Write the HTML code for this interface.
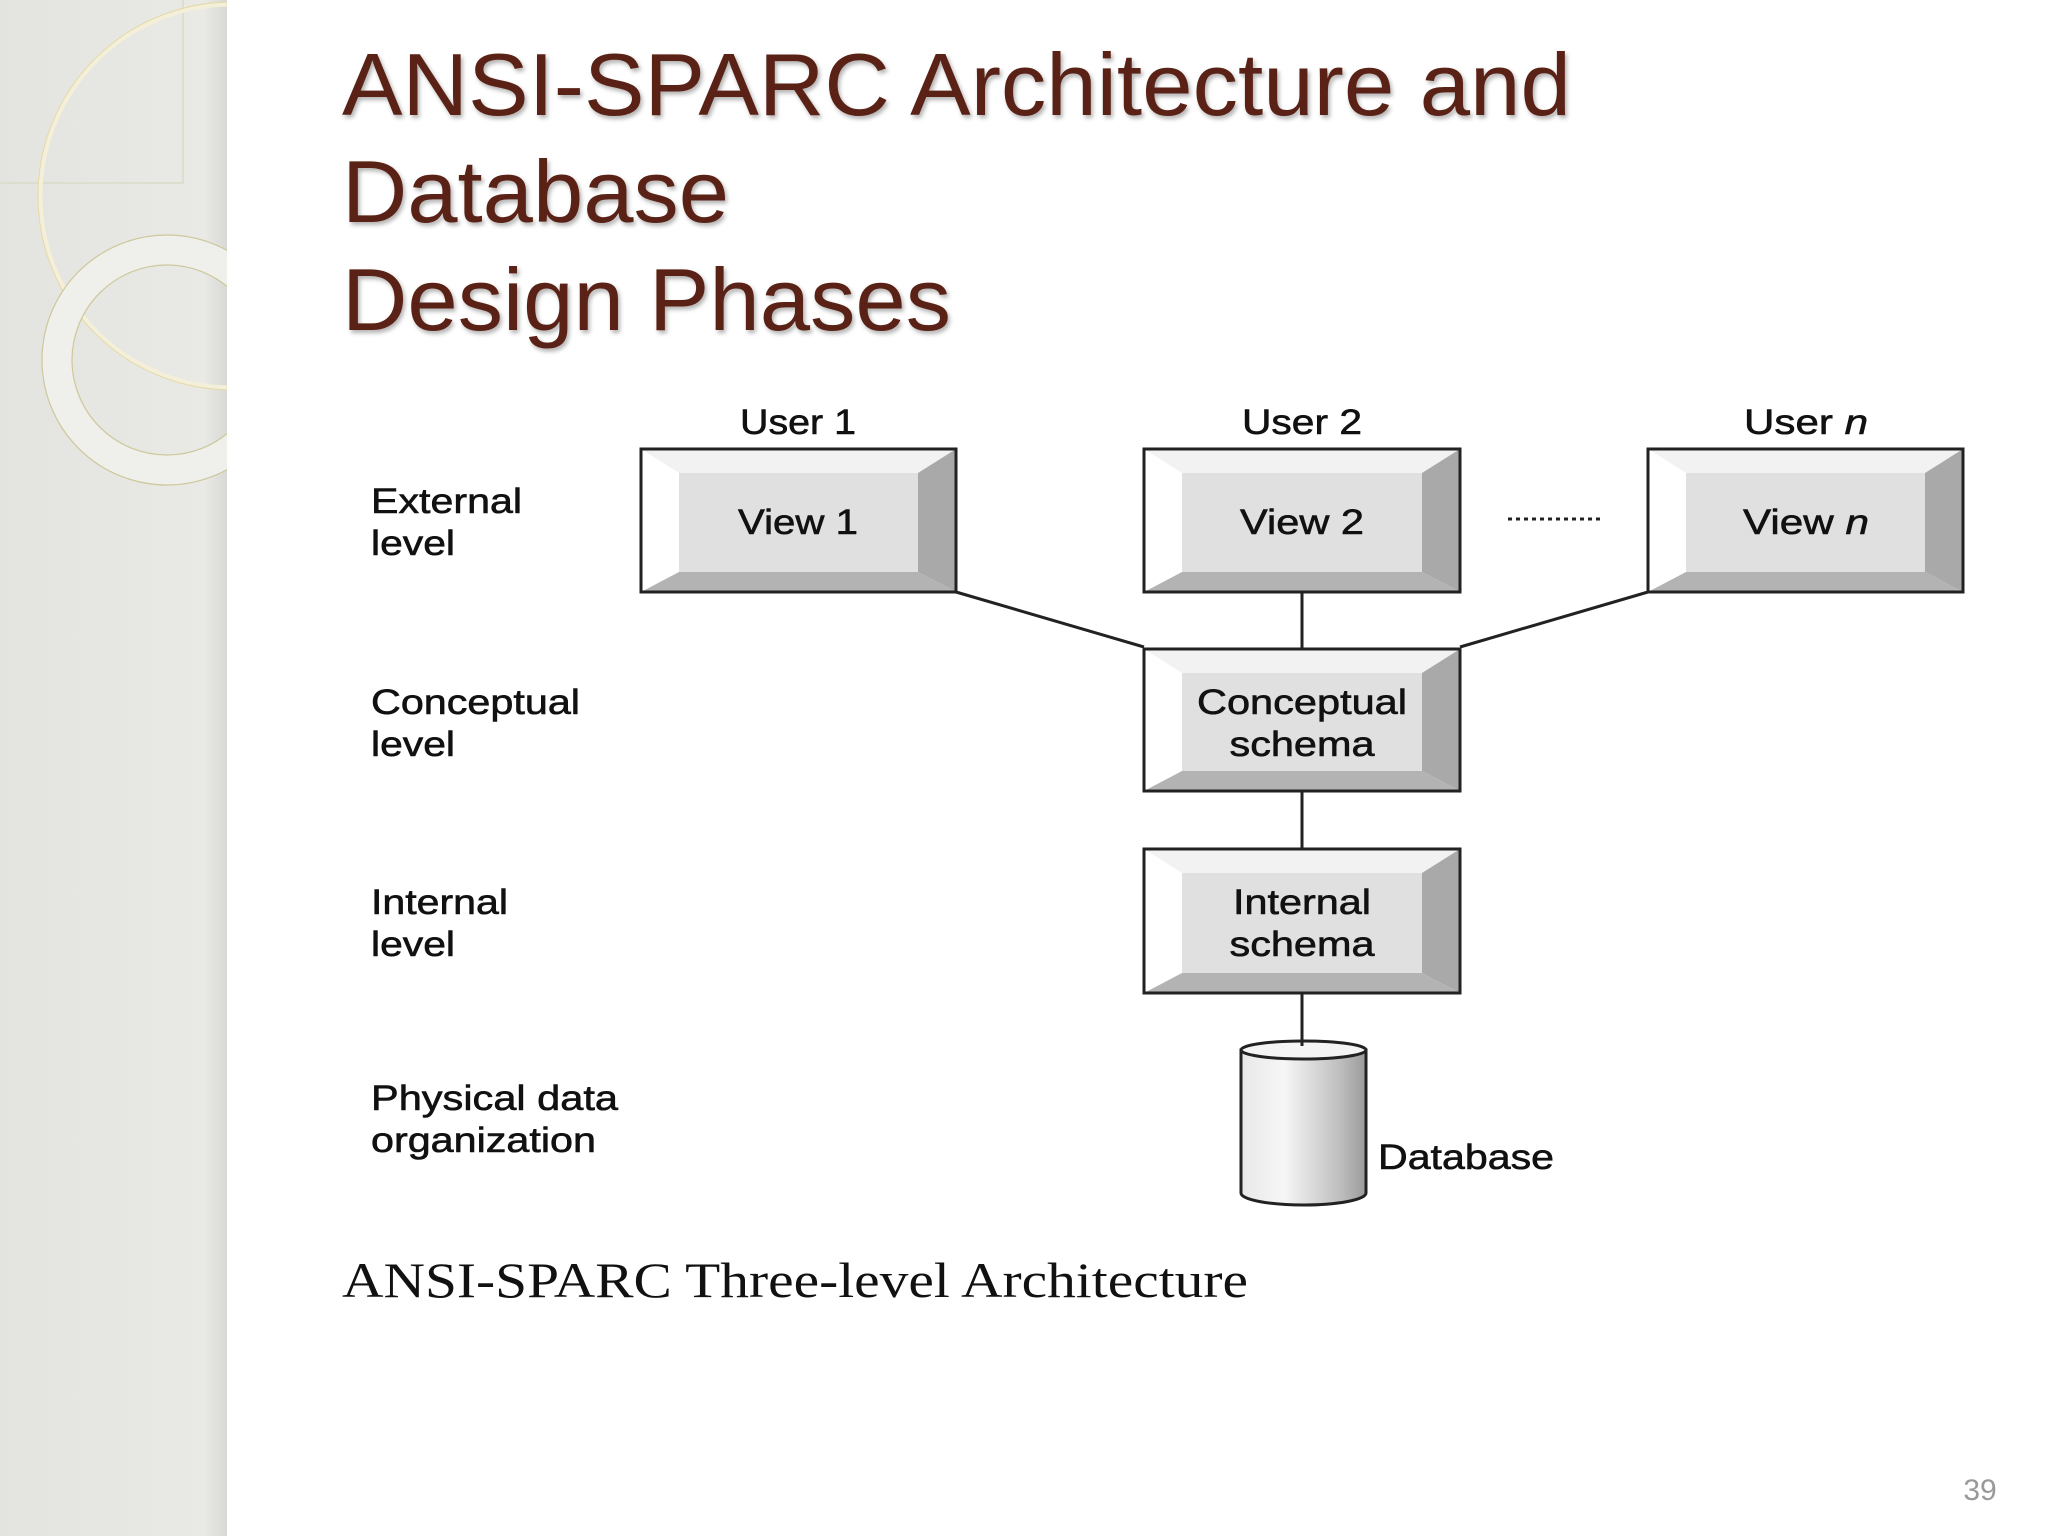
<!DOCTYPE html>
<html><head><meta charset="utf-8"><style>
html,body{margin:0;padding:0;background:#fff;}
svg{display:block;}
</style></head><body>
<svg width="2048" height="1536" viewBox="0 0 2048 1536" xmlns="http://www.w3.org/2000/svg">
<defs>
<linearGradient id="side" x1="0" x2="1"><stop offset="0" stop-color="#e3e3df"/><stop offset="0.9" stop-color="#e9e9e5"/><stop offset="1" stop-color="#d8d8d5"/></linearGradient>
<linearGradient id="cyl" x1="0" x2="1"><stop offset="0" stop-color="#e8e8e8"/><stop offset="0.35" stop-color="#f6f6f6"/><stop offset="0.8" stop-color="#bdbdbd"/><stop offset="1" stop-color="#9a9a9a"/></linearGradient>
<clipPath id="sc"><rect x="0" y="0" width="227" height="1536"/></clipPath>
<filter id="sh"><feDropShadow dx="2" dy="3" stdDeviation="2" flood-color="#000" flood-opacity="0.3"/></filter>
</defs>
<rect x="0" y="0" width="227" height="1536" fill="url(#side)"/>
<g clip-path="url(#sc)" fill="none">
<rect x="-1" y="-1" width="184" height="184" stroke="#d8dcc8" stroke-width="1.5"/>
<circle cx="232" cy="196" r="192" stroke="#f3efd8" stroke-width="5"/>
<circle cx="232" cy="196" r="194" stroke="#e2d9a8" stroke-width="1"/>
<circle cx="167" cy="360" r="110" stroke="#efefec" stroke-width="30"/>
<circle cx="167" cy="360" r="125" stroke="#cfc89a" stroke-width="1.2"/>
<circle cx="167" cy="360" r="95" stroke="#cfc89a" stroke-width="1.2"/>
</g>
<g font-family="Liberation Sans, Arial, sans-serif" fill="#5a2414" font-size="88" filter="url(#sh)">
<text x="342" y="115" textLength="1229" lengthAdjust="spacingAndGlyphs">ANSI-SPARC Architecture and</text>
<text x="342" y="222" textLength="387" lengthAdjust="spacingAndGlyphs">Database</text>
<text x="342" y="330" textLength="609" lengthAdjust="spacingAndGlyphs">Design Phases</text>
</g>
<g stroke="#222" stroke-width="3" fill="none">
<line x1="956" y1="592" x2="1144" y2="647"/>
<line x1="1302" y1="592" x2="1302" y2="649"/>
<line x1="1648" y1="592" x2="1460" y2="647"/>
<line x1="1302" y1="791" x2="1302" y2="849"/>
<line x1="1302" y1="993" x2="1302" y2="1045"/>
</g>
<g>
<g transform="translate(641,449)">
<rect x="0" y="0" width="315" height="143" fill="#fff"/>
<polygon points="0,0 315,0 277,24 38,24" fill="#f2f2f2"/>
<polygon points="0,0 38,24 38,123 0,143" fill="#fff"/>
<polygon points="315,0 315,143 277,123 277,24" fill="#a9a9a9"/>
<polygon points="0,143 38,123 277,123 315,143" fill="#b3b3b3"/>
<rect x="38" y="24" width="239" height="99" fill="#e0e0e0"/>
<rect x="0" y="0" width="315" height="143" fill="none" stroke="#222" stroke-width="3"/>
</g>
<g transform="translate(1144,449)">
<rect x="0" y="0" width="316" height="143" fill="#fff"/>
<polygon points="0,0 316,0 278,24 38,24" fill="#f2f2f2"/>
<polygon points="0,0 38,24 38,123 0,143" fill="#fff"/>
<polygon points="316,0 316,143 278,123 278,24" fill="#a9a9a9"/>
<polygon points="0,143 38,123 278,123 316,143" fill="#b3b3b3"/>
<rect x="38" y="24" width="240" height="99" fill="#e0e0e0"/>
<rect x="0" y="0" width="316" height="143" fill="none" stroke="#222" stroke-width="3"/>
</g>
<g transform="translate(1648,449)">
<rect x="0" y="0" width="315" height="143" fill="#fff"/>
<polygon points="0,0 315,0 277,24 38,24" fill="#f2f2f2"/>
<polygon points="0,0 38,24 38,123 0,143" fill="#fff"/>
<polygon points="315,0 315,143 277,123 277,24" fill="#a9a9a9"/>
<polygon points="0,143 38,123 277,123 315,143" fill="#b3b3b3"/>
<rect x="38" y="24" width="239" height="99" fill="#e0e0e0"/>
<rect x="0" y="0" width="315" height="143" fill="none" stroke="#222" stroke-width="3"/>
</g>
<g transform="translate(1144,649)">
<rect x="0" y="0" width="316" height="142" fill="#fff"/>
<polygon points="0,0 316,0 278,24 38,24" fill="#f2f2f2"/>
<polygon points="0,0 38,24 38,122 0,142" fill="#fff"/>
<polygon points="316,0 316,142 278,122 278,24" fill="#a9a9a9"/>
<polygon points="0,142 38,122 278,122 316,142" fill="#b3b3b3"/>
<rect x="38" y="24" width="240" height="98" fill="#e0e0e0"/>
<rect x="0" y="0" width="316" height="142" fill="none" stroke="#222" stroke-width="3"/>
</g>
<g transform="translate(1144,849)">
<rect x="0" y="0" width="316" height="144" fill="#fff"/>
<polygon points="0,0 316,0 278,24 38,24" fill="#f2f2f2"/>
<polygon points="0,0 38,24 38,124 0,144" fill="#fff"/>
<polygon points="316,0 316,144 278,124 278,24" fill="#a9a9a9"/>
<polygon points="0,144 38,124 278,124 316,144" fill="#b3b3b3"/>
<rect x="38" y="24" width="240" height="100" fill="#e0e0e0"/>
<rect x="0" y="0" width="316" height="144" fill="none" stroke="#222" stroke-width="3"/>
</g>
</g>
<path d="M1241,1050 L1241,1193 A62.5,12 0 0 0 1366,1193 L1366,1050 Z" fill="url(#cyl)" stroke="#222" stroke-width="3"/>
<ellipse cx="1303.5" cy="1050" rx="62.5" ry="9" fill="#f4f4f4" stroke="#222" stroke-width="3"/>
<line x1="1302" y1="1040" x2="1302" y2="1046" stroke="#222" stroke-width="3"/>
<g font-family="Liberation Sans, Arial, sans-serif" font-size="35" fill="#111" stroke="#111" stroke-width="0.6" lengthAdjust="spacingAndGlyphs">
<text x="798" y="434" text-anchor="middle" textLength="116" lengthAdjust="spacingAndGlyphs">User 1</text>
<text x="1302" y="434" text-anchor="middle" textLength="120" lengthAdjust="spacingAndGlyphs">User 2</text>
<text x="1806" y="434" text-anchor="middle" textLength="124" lengthAdjust="spacingAndGlyphs">User <tspan font-style="italic">n</tspan></text>
<text x="798" y="534" text-anchor="middle" textLength="120" lengthAdjust="spacingAndGlyphs">View 1</text>
<text x="1302" y="534" text-anchor="middle" textLength="124" lengthAdjust="spacingAndGlyphs">View 2</text>
<text x="1806" y="534" text-anchor="middle" textLength="126" lengthAdjust="spacingAndGlyphs">View <tspan font-style="italic">n</tspan></text>
<text x="1302" y="714" text-anchor="middle" textLength="210" lengthAdjust="spacingAndGlyphs">Conceptual</text>
<text x="1302" y="756" text-anchor="middle" textLength="145" lengthAdjust="spacingAndGlyphs">schema</text>
<text x="1302" y="914" text-anchor="middle" textLength="138" lengthAdjust="spacingAndGlyphs">Internal</text>
<text x="1302" y="956" text-anchor="middle" textLength="145" lengthAdjust="spacingAndGlyphs">schema</text>
<text x="1378" y="1169" textLength="176" lengthAdjust="spacingAndGlyphs">Database</text>
<text x="371" y="513" textLength="151" lengthAdjust="spacingAndGlyphs">External</text>
<text x="371" y="555" textLength="84" lengthAdjust="spacingAndGlyphs">level</text>
<text x="371" y="714" textLength="209" lengthAdjust="spacingAndGlyphs">Conceptual</text>
<text x="371" y="756" textLength="84" lengthAdjust="spacingAndGlyphs">level</text>
<text x="371" y="914" textLength="137" lengthAdjust="spacingAndGlyphs">Internal</text>
<text x="371" y="956" textLength="84" lengthAdjust="spacingAndGlyphs">level</text>
<text x="371" y="1110" textLength="247" lengthAdjust="spacingAndGlyphs">Physical data</text>
<text x="371" y="1152" textLength="225" lengthAdjust="spacingAndGlyphs">organization</text>
</g>
<line x1="1508" y1="519" x2="1600" y2="519" stroke="#222" stroke-width="3" stroke-dasharray="4,4"/>
<text x="342" y="1297" font-family="Liberation Serif, Times New Roman, serif" font-size="50" fill="#111" textLength="906" lengthAdjust="spacingAndGlyphs">ANSI-SPARC Three-level Architecture</text>
<text x="1980" y="1500" text-anchor="middle" font-family="Liberation Sans, Arial, sans-serif" font-size="30" fill="#999">39</text>
</svg>
</body></html>
